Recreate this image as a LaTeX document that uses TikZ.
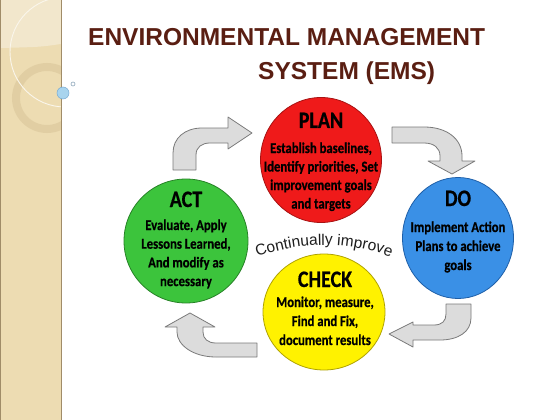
\documentclass[tikz,border=0pt]{standalone}
\usepackage{fontspec}
\setmainfont{Liberation Sans}
\newfontfamily\carl[FakeBold=0.6]{Carlito Bold}
\usetikzlibrary{decorations.text,shapes.geometric}
\definecolor{bar}{HTML}{EDDCB2}
\definecolor{barlight}{HTML}{F2E7CC}
\definecolor{barline}{HTML}{A08C68}
\definecolor{ringc}{HTML}{D6C296}
\definecolor{titlec}{HTML}{5A1E12}
\definecolor{redf}{HTML}{EF1A1A}
\definecolor{redd}{HTML}{A81212}
\definecolor{greenf}{HTML}{3CC43C}
\definecolor{greend}{HTML}{268226}
\definecolor{bluef}{HTML}{3A90E6}
\definecolor{blued}{HTML}{1E5FA8}
\definecolor{yellowf}{HTML}{FFF200}
\definecolor{yellowd}{HTML}{AFA200}
\definecolor{arrowf}{HTML}{DCDCDC}
\definecolor{arrowd}{HTML}{7A7A7A}
\definecolor{bubf}{HTML}{A8D4EE}
\definecolor{bubd}{HTML}{78AAD2}
\definecolor{smallc}{HTML}{8CA5B9}
\newcommand\contstyle{\fontsize{15.5}{18}\selectfont\color[HTML]{1E1E1E}}
\newcommand\tall[1]{\scalebox{1}[1.18]{#1}}
\begin{document}
\begin{tikzpicture}[x=1pt,y=-1pt,
  blob/.style={ellipse, inner sep=0, line width=0.8pt},
  blockarrow/.style={fill=arrowf, draw=arrowd, line width=0.8pt, line join=round},
  ttl/.style={font=\carl\fontsize{20}{20}\selectfont, anchor=base, inner sep=0},
  bdy/.style={font=\carl\fontsize{12.7}{14}\selectfont, anchor=base, inner sep=0},
  head/.style={font=\bfseries\fontsize{24.5}{28}\selectfont, text=titlec, anchor=base west, inner sep=0}]
\useasboundingbox (0,0) rectangle (560,420);
\fill[white] (0,0) rectangle (560,420);
% sidebar
\fill[bar] (0,0) rectangle (61,420);
\begin{scope}
  \clip (0,0) rectangle (61,420);
  \fill[barlight] (0,0) -- (61,0) -- (61,44) .. controls (40,47) .. (0,48) -- cycle;
  \draw[ringc, line width=8pt, opacity=0.5] (47,98) circle (31);
  \draw[white!75!bar, line width=0.9pt] (65,52) circle (55);
\end{scope}
\draw[barline, line width=0.8pt] (61,0) -- (61,420);
\draw[barline, line width=0.8pt] (0.4,0) -- (0.4,420);
\fill[fill=bubf, draw=bubd, line width=0.5pt] (63,93) circle (6);
\draw[smallc, line width=0.6pt] (73,84) circle (2);
% title
\node[head] (t1) at (88,46) {ENVIRONMENTAL MANAGEMENT};
\node[head] (t2) at (258,80) {SYSTEM (EMS)};
% circles
\node[blob, draw=redd, fill=redf, minimum width=121pt, minimum height=125pt] (plan) at (321,160) {};
\node[blob, draw=greend, fill=greenf, minimum width=124pt, minimum height=124pt] (act) at (186,241) {};
\node[blob, draw=blued, fill=bluef, minimum width=111pt, minimum height=121pt] (do) at (458,238) {};
\node[blob, draw=yellowd, fill=yellowf, minimum width=122pt, minimum height=116pt] (check) at (324,312) {};
% texts
\node[ttl] (planT) at (321,128) {\tall{PLAN}};
\foreach \t [count=\i] in {{Establish baselines,},{Identify priorities, Set},{improvement goals},{and targets}}
  \node[bdy] (plan\i) at (321,{153+18.5*(\i-1)}) {\tall{\t}};
\node[ttl] (actT) at (186,207) {\tall{ACT}};
\foreach \t [count=\i] in {{Evaluate, Apply},{Lessons Learned,},{And modify as},{necessary}}
  \node[bdy] (act\i) at (186,{230+18.7*(\i-1)}) {\tall{\t}};
\node[ttl] (doT) at (458,206) {\tall{DO}};
\foreach \t [count=\i] in {{Implement Action},{Plans to achieve},{goals}}
  \node[bdy] (do\i) at (458,{232+19*(\i-1)}) {\tall{\t}};
\node[ttl] (checkT) at (325,287) {\tall{CHECK}};
\foreach \t [count=\i] in {{Monitor, measure,},{Find and Fix,},{document results}}
  \node[bdy] (check\i) at (325,{307+19*(\i-1)}) {\tall{\t}};
% curved text
\path[decorate, decoration={text along path, text={|\contstyle|Continually improve}, text align=center}]
  (250,260) .. controls (297,240) and (351,240) .. (398,260);
% block arrows
\draw[blockarrow] (173,170) -- (173,153) .. controls (173,138) and (185,128) .. (202,128)
  -- (228,128) -- (228,117) -- (252,133) -- (228,149) -- (228,143) -- (210,143)
  .. controls (202,143) and (196,147) .. (196,155) -- (196,170) -- cycle;
\draw[blockarrow] (392,127) -- (424,127) .. controls (447,127) and (462,139) .. (462,156)
  -- (462,161) -- (475,161) -- (452,174) -- (428,161) -- (440,161) -- (440,156)
  .. controls (440,148) and (434,143) .. (424,143) -- (392,143) -- cycle;
\draw[blockarrow] (446,304) -- (471,304) -- (471,318) .. controls (471,332) and (458,340) .. (440,340)
  -- (413,340) -- (413,347) -- (389,334) -- (413,322) -- (413,325) -- (434,325)
  .. controls (442,325) and (446,321) .. (446,314) -- cycle;
\draw[blockarrow] (257,343) -- (257,357) -- (216,357) .. controls (193,357) and (177,345) .. (177,332)
  -- (177,327) -- (165,327) -- (190,313) -- (215,327) -- (203,327) -- (203,332)
  .. controls (203,339) and (208,343) .. (216,343) -- cycle;
\end{tikzpicture}
\end{document}
